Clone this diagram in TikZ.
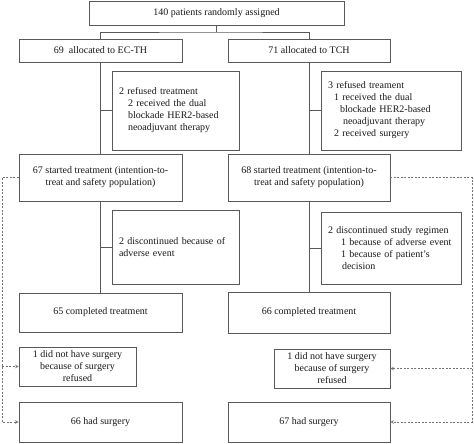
\documentclass[tikz,border=0pt]{standalone}
\usepackage{fontspec}
\setmainfont{Liberation Serif}
\begin{document}
\begin{tikzpicture}
[x=1pt,y=-1pt,
  boxDecorate/.style={draw=black!65,line width=0.7pt,fill=white,text=black!90,%
    font=\fontsize{10}{12}\selectfont,align=center,inner sep=0pt},%
  listBox/.style={boxDecorate,align=left,inner xsep=7pt},%
  solidLine/.style={draw=black!65,line width=0.7pt},%
  dashArrow/.style={->,>=stealth,draw=black!55,line width=0.6pt,dash pattern=on 2pt off 1.5pt}]
\useasboundingbox (0,0) rectangle (474,444);
%% centred boxes
\foreach \nodename/\x/\y/\w/\h/\txt in {
  top/216.5/13/255/24/{140 patients randomly assigned},
  ecth/100.5/50.5/163/23/{69~ allocated to EC-TH},
  tch/309/50.5/162/23/{71 allocated to TCH},
  startL/100.5/177.5/163/47/{67 started treatment (intention-to-\\treat and safety population)},
  startR/309/177.5/162/47/{68 started treatment (intention-to-\\treat and safety population)},
  compL/100.5/312.5/163/39/{65 completed treatment},
  compR/309/312.5/162/41/{66 completed treatment},
  nosurgL/77.5/366.5/117/39/{1 did not have surgery\\because of surgery\\refused},
  nosurgR/332/368.5/116/39/{1 did not have surgery\\because of surgery\\refused},
  surgL/100.5/422/163/40/{66 had surgery},
  surgR/309/422/162/40/{67 had surgery}}
{
  \node (\nodename) at (\x,\y) [boxDecorate,minimum width=\w pt,minimum height=\h pt] {\txt};
}
%% side boxes
\node (refL) at (175.5,110.5) [listBox,text width=113pt,minimum height=79pt]
  {2 refused treatment\\\hspace*{9pt}2 received the dual\\\hspace*{9pt}blockade HER2-based\\\hspace*{9pt}neoadjuvant therapy};
\node (refR) at (391,110.5) [listBox,text width=126pt,minimum height=79pt]
  {3 refused treament\\\hspace*{6pt}1 received the dual\\\hspace*{12pt}blockade HER2-based\\\hspace*{15pt}neoadjuvant therapy\\\hspace*{6pt}2 received surgery};
\node (discL) at (175.5,247) [listBox,text width=113pt,minimum height=74pt]
  {2 discontinued because of\\adverse event};
\node (discR) at (391,248) [listBox,text width=126pt,minimum height=72pt]
  {2 discontinued study regimen\\\hspace*{13pt}1 because of adverse event\\\hspace*{13pt}1 because of patient’s\\\hspace*{14pt}decision};
%% solid lines
\coordinate (split) at (216.5,32);
\draw[solidLine] (top.south) -- (split);
\draw[solidLine] (ecth.north) |- (split) -| (tch.north);
\foreach \upper/\lower/\side in {ecth/startL/refL, tch/startR/refR, startL/compL/discL, startR/compR/discR}
{
  \draw[solidLine] (\upper.south) -- (\lower.north);
  \draw[solidLine] (\upper.south |- \side.west) -- (\side.west);
}
%% dashed lines
\coordinate (leftRail) at (2,0);
\coordinate (rightRail) at (472,0);
\draw[dashArrow] (startL.west) -| (leftRail |- surgL.west) -- (surgL.west);
\draw[dashArrow] (leftRail |- nosurgL.west) -- (nosurgL.west);
\draw[dashArrow] (startR.east) -| (rightRail |- surgR.east) -- (surgR.east);
\draw[dashArrow] (rightRail |- nosurgR.east) -- (nosurgR.east);
\end{tikzpicture}
\end{document}
